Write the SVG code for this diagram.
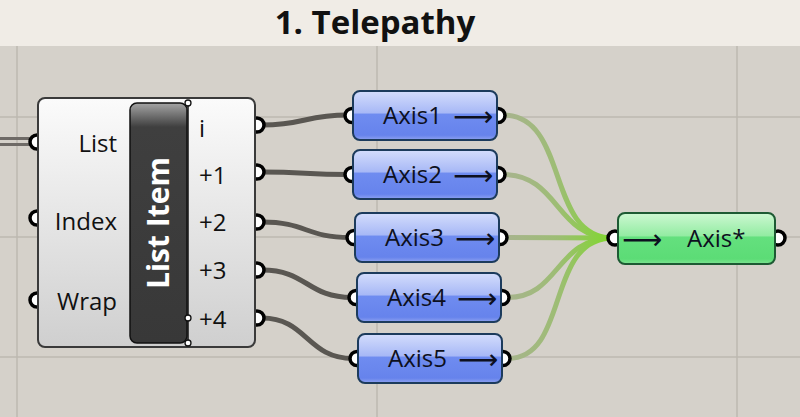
<svg xmlns="http://www.w3.org/2000/svg" width="800" height="417" viewBox="0 0 800 417">
<defs>
<style>
.lbl{font-family:"Open Sans","Noto Sans",sans-serif;font-size:24px;fill:#111}
.ax{font-family:"Open Sans","Noto Sans",sans-serif;font-size:24px;fill:#0d1020}
.arr{font-family:"DejaVu Sans",sans-serif;font-size:28px;fill:#0d1020}
.port{fill:#fff;stroke:#000;stroke-width:3.5}
.grid{stroke:#bdb8b0;stroke-width:1.5}
.dw{fill:none;stroke:#5a5752;stroke-width:5}
.gw{fill:none;stroke:url(#gwg);stroke-width:5}
.blue{fill:url(#bg);stroke:#1c3b5c;stroke-width:2}
.pin{fill:#fff;stroke:#111;stroke-width:1.3}
</style>
<linearGradient id="bg" x1="0" y1="0" x2="0" y2="1">
<stop offset="0" stop-color="#d4ddfc"/>
<stop offset="0.45" stop-color="#a7b8f6"/>
<stop offset="0.47" stop-color="#6f8cf0"/>
<stop offset="0.9" stop-color="#6683ec"/>
<stop offset="1" stop-color="#8ea2f0"/>
</linearGradient>
<linearGradient id="gg" x1="0" y1="0" x2="0" y2="1">
<stop offset="0" stop-color="#cdf7d2"/>
<stop offset="0.45" stop-color="#93eca2"/>
<stop offset="0.47" stop-color="#64e07e"/>
<stop offset="0.9" stop-color="#5cdc76"/>
<stop offset="1" stop-color="#7fe393"/>
</linearGradient>
<linearGradient id="wg" x1="0" y1="0" x2="0" y2="1">
<stop offset="0" stop-color="#fbfbfb"/>
<stop offset="1" stop-color="#cfcfcf"/>
</linearGradient>
<linearGradient id="dg" x1="0" y1="0" x2="0" y2="1">
<stop offset="0" stop-color="#a5a5a5"/>
<stop offset="0.1" stop-color="#3f3f3f"/>
<stop offset="1" stop-color="#383838"/>
</linearGradient>
<linearGradient id="gwg" gradientUnits="userSpaceOnUse" x1="503" y1="0" x2="613" y2="0">
<stop offset="0" stop-color="#a8b38f"/>
<stop offset="0.5" stop-color="#9dbd74"/>
<stop offset="1" stop-color="#7fd92a"/>
</linearGradient>
</defs>

<rect x="0" y="0" width="800" height="417" fill="#d5d1ca"/>
<g id="grid">
<line class="grid" x1="17" y1="46" x2="17" y2="417"/>
<line class="grid" x1="377" y1="46" x2="377" y2="417"/>
<line class="grid" x1="737" y1="46" x2="737" y2="417"/>
<line class="grid" x1="0" y1="117" x2="800" y2="117"/>
<line class="grid" x1="0" y1="237" x2="800" y2="237"/>
<line class="grid" x1="0" y1="357" x2="800" y2="357"/>
</g>
<rect x="0" y="0" width="800" height="46" fill="#f0ece6"/>
<text x="375" y="34" text-anchor="middle" font-family="'Open Sans','Noto Sans',sans-serif" font-weight="bold" font-size="33" fill="#111">1. Telepathy</text>

<g id="connectors">
<line x1="0" y1="138.5" x2="34" y2="138.5" stroke="#6e6a66" stroke-width="3"/>
<line x1="0" y1="144.5" x2="34" y2="144.5" stroke="#6e6a66" stroke-width="3"/>
<path class="dw" d="M262,125 C305,125 305,115 348,115"/>
<path class="dw" d="M262,172 C305,172 305,174.5 348,174.5"/>
<path class="dw" d="M262,222 C306,222 306,237.5 350,237.5"/>
<path class="dw" d="M262,270 C307,270 307,297.5 352,297.5"/>
<path class="dw" d="M262,318 C307,318 307,358.5 353,358.5"/>
<path class="gw" d="M503,115 C570,115 545,238 613,238"/>
<path class="gw" d="M503,174.5 C560,174.5 555,238 613,238"/>
<path class="gw" d="M505,237.5 C560,237.5 560,238 613,238"/>
<path class="gw" d="M507,297.5 C560,297.5 555,238 613,238"/>
<path class="gw" d="M508,358.5 C570,358.5 545,238 613,238"/>
</g>

<g id="listitem">
<circle class="port" cx="37" cy="142" r="7"/>
<circle class="port" cx="37" cy="218" r="7"/>
<circle class="port" cx="37" cy="300" r="7"/>
<circle class="port" cx="257" cy="125" r="7"/>
<circle class="port" cx="257" cy="172" r="7"/>
<circle class="port" cx="257" cy="222" r="7"/>
<circle class="port" cx="257" cy="270" r="7"/>
<circle class="port" cx="257" cy="318" r="7"/>
<rect x="38" y="98" width="217" height="249" rx="7" fill="url(#wg)" stroke="#3a3a3a" stroke-width="2"/>
<rect x="130" y="103" width="57" height="240" rx="7" fill="url(#dg)" stroke="#111" stroke-width="1.5"/>
<line x1="188" y1="103" x2="188" y2="343" stroke="#111" stroke-width="1.5"/>
<circle class="pin" cx="188" cy="103" r="3"/>
<circle class="pin" cx="188" cy="318" r="3"/>
<circle class="pin" cx="188" cy="343" r="3"/>
<text transform="translate(169,223) rotate(-90)" text-anchor="middle" font-family="'Open Sans','Noto Sans',sans-serif" font-weight="bold" font-size="30" fill="#fff">List Item</text>
<text class="lbl" x="117" y="152" text-anchor="end">List</text>
<text class="lbl" x="117" y="230" text-anchor="end">Index</text>
<text class="lbl" x="117" y="310" text-anchor="end">Wrap</text>
<text class="lbl" x="199" y="137">i</text>
<text class="lbl" x="199" y="184">+1</text>
<text class="lbl" x="199" y="231">+2</text>
<text class="lbl" x="199" y="279">+3</text>
<text class="lbl" x="199" y="328">+4</text>
</g>

<g id="axis1">
<circle class="port" cx="352" cy="115.5" r="7"/>
<circle class="port" cx="498" cy="115.5" r="7"/>
<rect class="blue" x="353" y="91" width="144" height="49" rx="7"/>
<text class="ax" x="383" y="124">Axis1</text>
<text class="arr" x="453" y="126">⟶</text>
</g>
<g id="axis2">
<circle class="port" cx="352" cy="174.5" r="7"/>
<circle class="port" cx="498" cy="174.5" r="7"/>
<rect class="blue" x="353" y="150" width="144" height="49" rx="7"/>
<text class="ax" x="383" y="183">Axis2</text>
<text class="arr" x="453" y="185">⟶</text>
</g>
<g id="axis3">
<circle class="port" cx="354" cy="237.5" r="7"/>
<circle class="port" cx="500" cy="237.5" r="7"/>
<rect class="blue" x="355" y="213" width="144" height="49" rx="7"/>
<text class="ax" x="385" y="246">Axis3</text>
<text class="arr" x="455" y="248">⟶</text>
</g>
<g id="axis4">
<circle class="port" cx="356" cy="297.5" r="7"/>
<circle class="port" cx="502" cy="297.5" r="7"/>
<rect class="blue" x="357" y="273" width="144" height="49" rx="7"/>
<text class="ax" x="387" y="306">Axis4</text>
<text class="arr" x="457" y="308">⟶</text>
</g>
<g id="axis5">
<circle class="port" cx="357" cy="358.5" r="7"/>
<circle class="port" cx="503" cy="358.5" r="7"/>
<rect class="blue" x="358" y="334" width="144" height="49" rx="7"/>
<text class="ax" x="388" y="367">Axis5</text>
<text class="arr" x="458" y="369">⟶</text>
</g>

<g id="axisstar">
<circle class="port" cx="615" cy="238" r="7"/>
<circle class="port" cx="778" cy="238" r="7"/>
<rect x="618" y="213" width="157" height="51" rx="7" fill="url(#gg)" stroke="#1d5a33" stroke-width="2"/>
<text class="arr" x="622" y="249">⟶</text>
<text class="ax" x="687" y="247">Axis*</text>
</g>
</svg>
